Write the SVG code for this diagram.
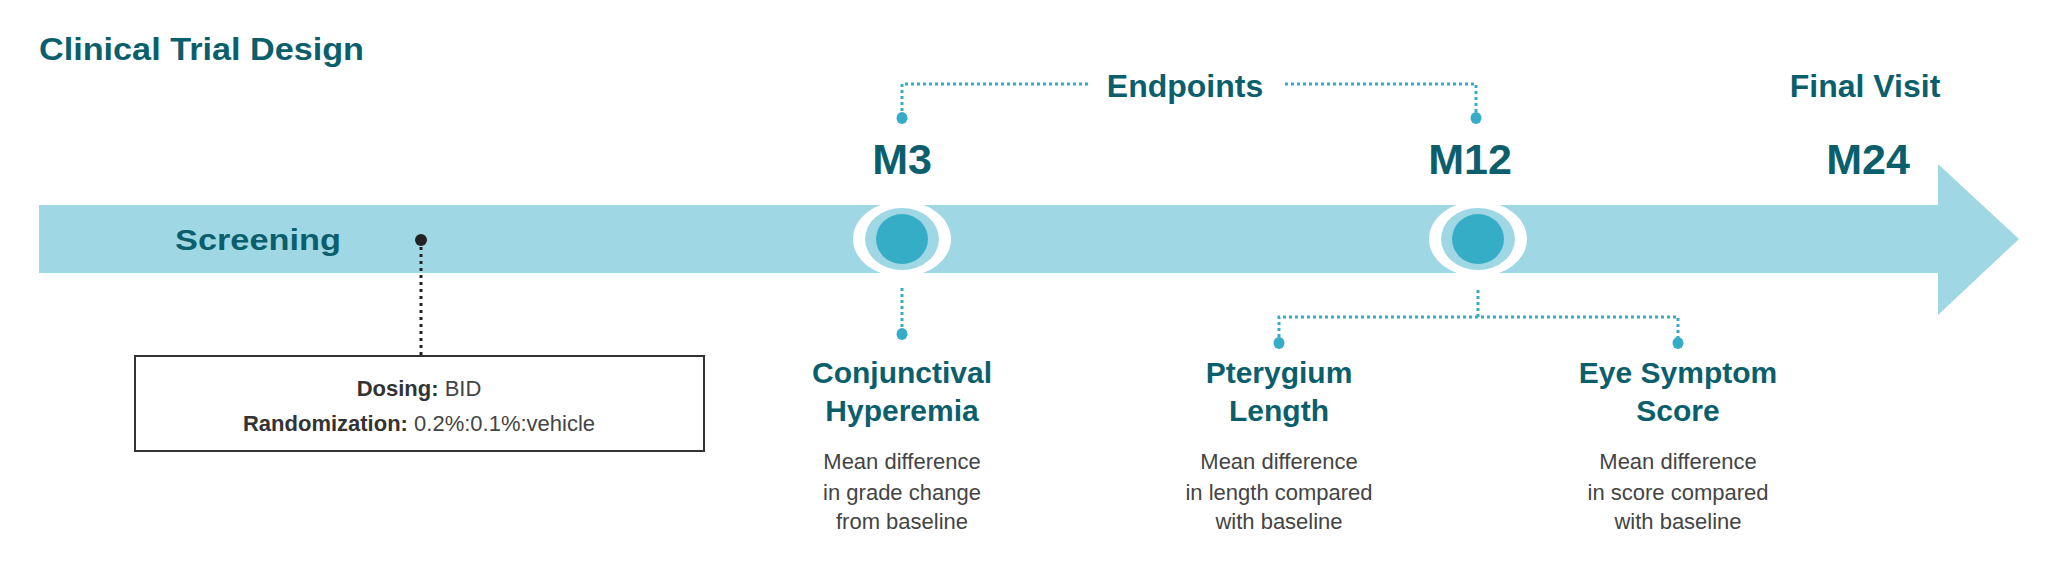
<svg xmlns="http://www.w3.org/2000/svg" width="2048" height="572" viewBox="0 0 2048 572">
<style>
.h{font-family:"Liberation Sans",Arial,sans-serif;font-weight:bold;fill:#0b5f6d;text-anchor:middle}
.b{font-family:"Liberation Sans",Arial,sans-serif;fill:#444;font-size:22px;text-anchor:middle}
.dl{stroke:#35adc7;stroke-width:3;stroke-dasharray:3 3;fill:none}
.dot{fill:#35adc7}
</style>
<rect width="2048" height="572" fill="#fff"/>
<text x="39" y="60" class="h" style="text-anchor:start" font-size="31" textLength="325" lengthAdjust="spacingAndGlyphs">Clinical Trial Design</text>
<g id="timeline">
<polygon points="39,205 1938,205 1938,164 2019,239 1938,315 1938,273 39,273" fill="#9fd8e4"/>
</g>
<g id="connectors">
<polyline class="dl" points="902,117 902,84 1090,84"/>
<polyline class="dl" points="1285,84 1476,84 1476,117"/>
<line class="dl" x1="902" y1="288" x2="902" y2="334"/>
<polyline class="dl" points="1478,290 1478,317"/>
<polyline class="dl" points="1279,343 1279,317 1678,317 1678,343"/>
<line x1="421" y1="240" x2="421" y2="356" stroke="#222" stroke-width="3" stroke-dasharray="3 4"/>
</g>
<g id="dots">
<ellipse class="dot" cx="902" cy="118" rx="5.5" ry="6"/>
<ellipse class="dot" cx="1476" cy="118" rx="5.5" ry="6"/>
<ellipse class="dot" cx="902" cy="334" rx="5.5" ry="6"/>
<ellipse class="dot" cx="1279" cy="343" rx="5.5" ry="6"/>
<ellipse class="dot" cx="1678" cy="343" rx="5.5" ry="6"/>
<ellipse cx="421" cy="240" rx="6" ry="6" fill="#222"/>
</g>
<g id="screening">
<text x="175" y="250" class="h" style="text-anchor:start" font-size="30" textLength="166" lengthAdjust="spacingAndGlyphs">Screening</text>
</g>
<g id="dosing-box">
<rect x="135" y="356" width="569" height="95" fill="#fff" stroke="#333" stroke-width="2"/>
<text x="419" y="396" class="b" font-size="22"><tspan font-weight="bold" fill="#333">Dosing:</tspan> BID</text>
<text x="419" y="431" class="b" font-size="22"><tspan font-weight="bold" fill="#333">Randomization:</tspan> 0.2%:0.1%:vehicle</text>
</g>
<g id="m3">
<ellipse cx="902" cy="239" rx="49" ry="38" fill="#fff"/>
<ellipse cx="902" cy="239" rx="37" ry="31" fill="#9fd8e4"/>
<ellipse cx="902" cy="239" rx="26" ry="25" fill="#35adc7"/>
<text x="902" y="174" class="h" font-size="43">M3</text>
</g>
<g id="m12">
<ellipse cx="1478" cy="239" rx="49" ry="38" fill="#fff"/>
<ellipse cx="1478" cy="239" rx="37" ry="31" fill="#9fd8e4"/>
<ellipse cx="1478" cy="239" rx="26" ry="25" fill="#35adc7"/>
<text x="1470" y="174" class="h" font-size="43">M12</text>
</g>
<g id="m24">
<text x="1868" y="174" class="h" font-size="43">M24</text>
<text x="1865" y="97" class="h" font-size="32">Final Visit</text>
</g>
<g id="endpoints">
<text x="1185" y="97" class="h" font-size="32">Endpoints</text>
</g>
<g id="conj">
<text x="902" y="383" class="h" font-size="30">Conjunctival</text>
<text x="902" y="421" class="h" font-size="30">Hyperemia</text>
<text x="902" y="469" class="b">Mean difference</text>
<text x="902" y="500" class="b">in grade change</text>
<text x="902" y="529" class="b">from baseline</text>
</g>
<g id="pteryg">
<text x="1279" y="383" class="h" font-size="30">Pterygium</text>
<text x="1279" y="421" class="h" font-size="30">Length</text>
<text x="1279" y="469" class="b">Mean difference</text>
<text x="1279" y="500" class="b">in length compared</text>
<text x="1279" y="529" class="b">with baseline</text>
</g>
<g id="eye">
<text x="1678" y="383" class="h" font-size="30">Eye Symptom</text>
<text x="1678" y="421" class="h" font-size="30">Score</text>
<text x="1678" y="469" class="b">Mean difference</text>
<text x="1678" y="500" class="b">in score compared</text>
<text x="1678" y="529" class="b">with baseline</text>
</g>
</svg>
